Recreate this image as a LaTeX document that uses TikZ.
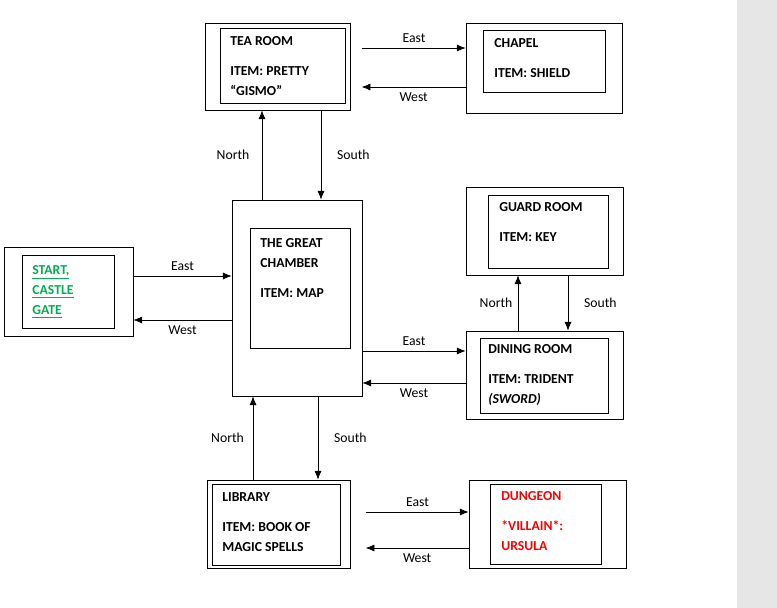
\documentclass[tikz,border=0pt]{standalone}
\usepackage{fontspec}
\setmainfont{Carlito}
\usetikzlibrary{fit,arrows.meta}
\definecolor{startgreen}{HTML}{00B050}
\definecolor{sidebar}{HTML}{E6E6E6}
\tikzset{
  outer/.style={draw,thin,inner sep=0pt},
  inner/.style={draw,thin,inner sep=0pt},
  room/.style={anchor=north west,align=left,inner sep=0pt,font=\fontsize{7.8}{11.4}\selectfont\bfseries},
  arr/.style={-{Latex[length=5pt,width=4pt]},thin},
  dir/.style={font=\fontsize{7.8}{9}\selectfont,inner sep=3pt}
}
\begin{document}
\begin{tikzpicture}[x=0.02cm,y=-0.02cm]
  \useasboundingbox (0,0) rectangle (777,608);
  \fill[sidebar] (737,0) rectangle (777,608);
  %rooms
  \node[outer,fit={(205,23) (350,110)}] (tea) {};
  \node[inner,fit={(220,28) (345,103)}] (teain) {};
  \node[room] (teatext) at (230,36) {TEA ROOM\\[6pt]ITEM: PRETTY\\“GISMO”};
  \node[outer,fit={(466,23) (622,113)}] (chapel) {};
  \node[inner,fit={(483,30) (605,92)}] (chapelin) {};
  \node[room] (chapeltext) at (494,38) {CHAPEL\\[6pt]ITEM: SHIELD};
  \node[outer,fit={(232,200) (362,396)}] (great) {};
  \node[inner,fit={(250,228) (350,348)}] (greatin) {};
  \node[room] (greattext) at (260,238) {THE GREAT\\CHAMBER\\[6pt]ITEM: MAP};
  \node[outer,fit={(4,247) (133,336)}] (start) {};
  \node[inner,fit={(22,255) (114,328)}] (startin) {};
  \node[room,text=startgreen] (starttext) at (32,265) {\underline{START,}\\\underline{CASTLE}\\\underline{GATE}};
  \node[outer,fit={(466,187) (623,275)}] (guard) {};
  \node[inner,fit={(488,195) (608,268)}] (guardin) {};
  \node[room] (guardtext) at (499,202) {GUARD ROOM\\[6pt]ITEM: KEY};
  \node[outer,fit={(466,331) (623,419)}] (dining) {};
  \node[inner,fit={(480,338) (608,413)}] (diningin) {};
  \node[room] (diningtext) at (488,344) {DINING ROOM\\[6pt]ITEM: TRIDENT\\\textit{(SWORD)}};
  \node[outer,fit={(207,480) (350,568)}] (library) {};
  \node[inner,fit={(212,484) (340,565)}] (libraryin) {};
  \node[room] (librarytext) at (222,492) {LIBRARY\\[6pt]ITEM: BOOK OF\\MAGIC SPELLS};
  \node[outer,fit={(469,480) (626,568)}] (dungeon) {};
  \node[inner,fit={(490,484) (601,564)}] (dungeonin) {};
  \node[room,text=red] (dungeontext) at (501,491) {DUNGEON\\[6pt]*VILLAIN*:\\URSULA};
  %connectors
  \draw[arr] (tea.east |- 0,48) ++(12,0) -- (chapel.west |- 0,48) node[dir,above,midway] {East};
  \draw[arr] (chapel.west |- 0,87) -- +(-104,0) node[dir,below,midway] {West};
  \draw[arr] (great.north -| 262,0) -- (tea.south -| 262,0) node[dir,left,midway,xshift=-4pt] {North};
  \draw[arr] (tea.south -| 321,0) -- (great.north -| 321,0) node[dir,right,midway,xshift=6pt] {South};
  \draw[arr] (start.east |- 0,276) -- (great.west |- 0,276) node[dir,above,midway] {East};
  \draw[arr] (great.west |- 0,320) -- (start.east |- 0,320) node[dir,below,midway] {West};
  \draw[arr] (great.east |- 0,351) -- (dining.west |- 0,351) node[dir,above,midway] {East};
  \draw[arr] (dining.west |- 0,383) -- (great.east |- 0,383) node[dir,below,midway] {West};
  \draw[arr] (dining.north -| 518,0) -- (guard.south -| 518,0) node[dir,left,midway] {North};
  \draw[arr] (guard.south -| 568,0) -- (dining.north -| 568,0) node[dir,right,midway,xshift=6pt] {South};
  \draw[arr] (library.north -| 253,0) -- (great.south -| 253,0) node[dir,left,midway,xshift=-2pt] {North};
  \draw[arr] (great.south -| 318,0) -- (library.north -| 318,0) node[dir,right,midway,xshift=6pt] {South};
  \draw[arr] (library.east |- 0,512) ++(16,0) -- (dungeon.west |- 0,512) node[dir,above,midway] {East};
  \draw[arr] (dungeon.west |- 0,548) -- +(-103,0) node[dir,below,midway] {West};
\end{tikzpicture}
\end{document}
